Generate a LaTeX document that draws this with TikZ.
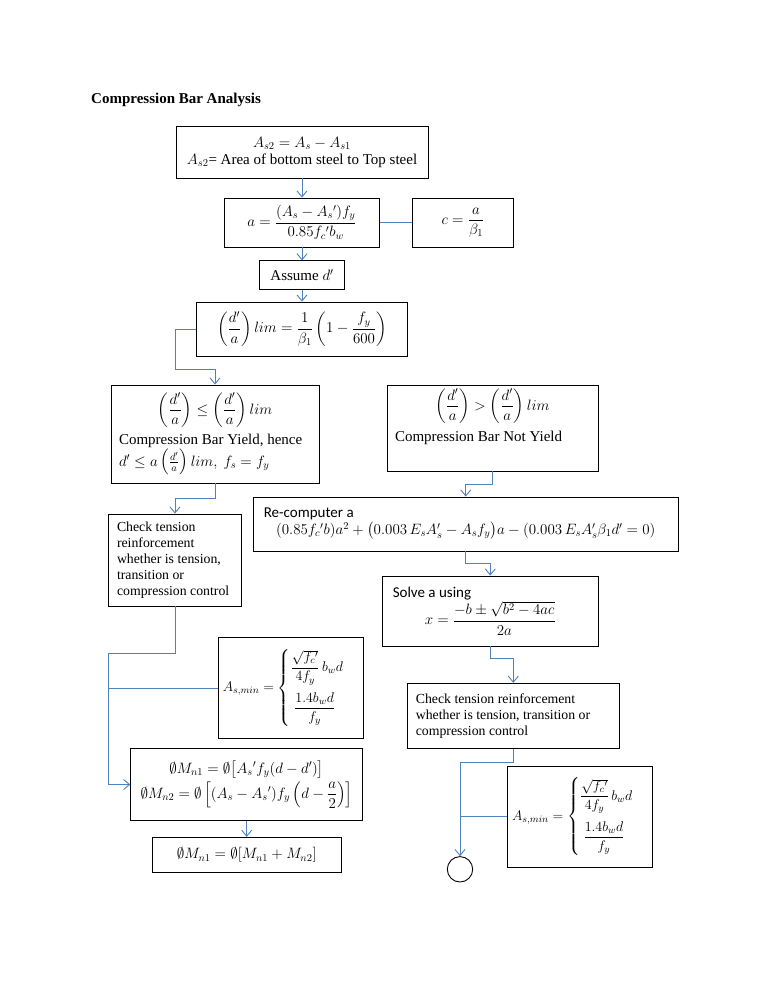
\documentclass[tikz,border=0pt]{standalone}
\usepackage{fix-cm}
\usepackage{amsmath}
\usepackage{fontspec}
\setmainfont{Liberation Serif}
\newfontfamily\calibrifont{Carlito}
\usetikzlibrary{arrows.meta,calc}
\definecolor{linkblue}{HTML}{4F81BD}
\newcommand\fbig{\fontsize{15}{17}\selectfont}
\newcommand\fsmall{\fontsize{13.8}{15.9}\selectfont}
\newcommand\fmin{\fontsize{14}{16}\selectfont}
\tikzset{
  bx/.style={draw=black, line width=0.9pt, inner sep=0pt, font=\fbig},
  link/.style={draw=linkblue, line width=0.9pt},
  arr/.style={link, -{Straight Barb[length=6pt,width=10pt]}},
}
\begin{document}
\begin{tikzpicture}[x=1pt,y=-1pt]
\fill[white] (0,0) rectangle (768,994);
\useasboundingbox (0,0) rectangle (768,994);

\node[anchor=base west, font=\fbig\bfseries, inner sep=0pt] (title) at (91,103.5) {Compression Bar Analysis};

% boxes
\node[bx, minimum width=252, minimum height=52, align=center] (A) at (302,152)
  {$A_{s2} = A_s - A_{s1}$\\ $A_{s2}$= Area of bottom steel to Top steel};

\node[bx, minimum width=155, minimum height=49] (B) at (302,222.5)
  {$a = \dfrac{(A_s - A_s{}')f_y}{0.85 f_c{}'b_w}$};

\node[bx, minimum width=100.5, minimum height=49] (C) at (463,222.5)
  {$c = \dfrac{a}{\beta_1}$};

\node[bx, minimum width=85, minimum height=28.3] (S) at (302,275)
  {Assume $d'$};

\node[bx, minimum width=211, minimum height=54] (D) at (302,329)
  {$\left(\dfrac{d'}{a}\right) lim = \dfrac{1}{\beta_1}\left(1 - \dfrac{f_y}{600}\right)$};

\node[bx, minimum width=208, minimum height=98] (E) at (215,434)
  {\parbox{192pt}{\centering $\left(\dfrac{d'}{a}\right) \le \left(\dfrac{d'}{a}\right) lim$\par
   \vspace{5pt}\raggedright Compression Bar Yield, hence\\[1pt]
   $d' \le a\left(\tfrac{d'}{a}\right) lim,\ f_s = f_y$}};

\node[bx, minimum width=211, minimum height=86] (F) at (492.5,428)
  {\parbox[c][80pt][t]{195pt}{\vspace{1pt}\centering $\left(\dfrac{d'}{a}\right) > \left(\dfrac{d'}{a}\right) lim$\par
   \vspace{6pt}\raggedright Compression Bar Not Yield}};

\node[bx, minimum width=425.5, minimum height=54] (G) at (465.75,524)
  {\parbox{404pt}{{\calibrifont Re-computer a}\par\centering
   $(0.85 f_c{}'b)a^2 + \big(0.003\,E_sA_s' - A_sf_y\big)a - (0.003\,E_sA_s'\beta_1 d' = 0)$}};

\node[bx, minimum width=133.5, minimum height=92] (H) at (175,560)
  {\parbox{116pt}{\fsmall\raggedright Check tension\\ reinforcement\\ whether is tension,\\ transition or\\ compression control}};

\node[bx, minimum width=215.5, minimum height=70] (I) at (490.25,611)
  {\parbox{195pt}{{\calibrifont Solve a using}\par\centering
   $x = \dfrac{-b \pm \sqrt{b^2 - 4ac}}{2a}$}};

\node[bx, minimum width=145, minimum height=100.6, font=\fmin] (J) at (290.5,688)
  {$A_{s,min} = \begin{cases} \dfrac{\sqrt{f_c{}'}}{4f_y}\,b_w d\\[16pt] \ \dfrac{1.4b_w d}{f_y}\end{cases}$};

\node[bx, minimum width=211.3, minimum height=65] (K) at (513.3,715.8)
  {\parbox{195pt}{\fsmall\raggedright Check tension reinforcement\\ whether is tension, transition or\\ compression control}};

\node[bx, minimum width=232, minimum height=72.4, align=center] (L) at (246.7,784.5)
  {$\emptyset M_{n1} = \emptyset\big[A_s{}'f_y(d - d')\big]$\\[2pt]
   $\emptyset M_{n2} = \emptyset\left[(A_s - A_s{}')f_y\left(d - \dfrac{a}{2}\right)\right]$};

\node[bx, minimum width=145, minimum height=100.3, font=\fmin] (M) at (579.8,816.8)
  {$A_{s,min} = \begin{cases} \dfrac{\sqrt{f_c{}'}}{4f_y}\,b_w d\\[16pt] \ \dfrac{1.4b_w d}{f_y}\end{cases}$};

\node[bx, minimum width=188.7, minimum height=35.4] (N) at (246.7,855)
  {$\emptyset M_{n1} = \emptyset[M_{n1} + M_{n2}]$};

\node[draw=black, line width=0.9pt, circle, minimum size=25.4pt, inner sep=0pt] (O) at (460,869.3) {};

% connectors
\draw[arr] (A.south) -- (B.north);
\draw[link] (B.east) -- (C.west);
\draw[arr] (B.south) -- (S.north);
\draw[arr] (S.south) -- (D.north);

\coordinate (d1) at (175,369.3);
\draw[arr] (D.west) -| (d1) -| (E.north);

\coordinate (e1) at (175,498.3);
\draw[arr] (E.south) |- (e1) -- (H.north);

\coordinate (f1) at (492.5,484);
\draw[arr] (F.south) -- (f1) -| (G.north);

\coordinate (g1) at (465.75,563);
\draw[arr] (G.south) -- (g1) -| (I.north);

\coordinate (i1) at (490.25,658.3);
\draw[arr] (I.south) -- (i1) -| (K.north);

\coordinate (h1) at (108.3,653.3);
\draw[arr] (H.south) |- (h1) |- (L.west);
\draw[link] (J.west) -- (J.west -| h1);

\draw[arr] (L.south) -- (N.north);

\coordinate (k1) at (460,762.7);
\draw[arr] (K.south) |- (k1) -- (O.north);
\draw[link] (M.west) -- (M.west -| k1);
\end{tikzpicture}
\end{document}
